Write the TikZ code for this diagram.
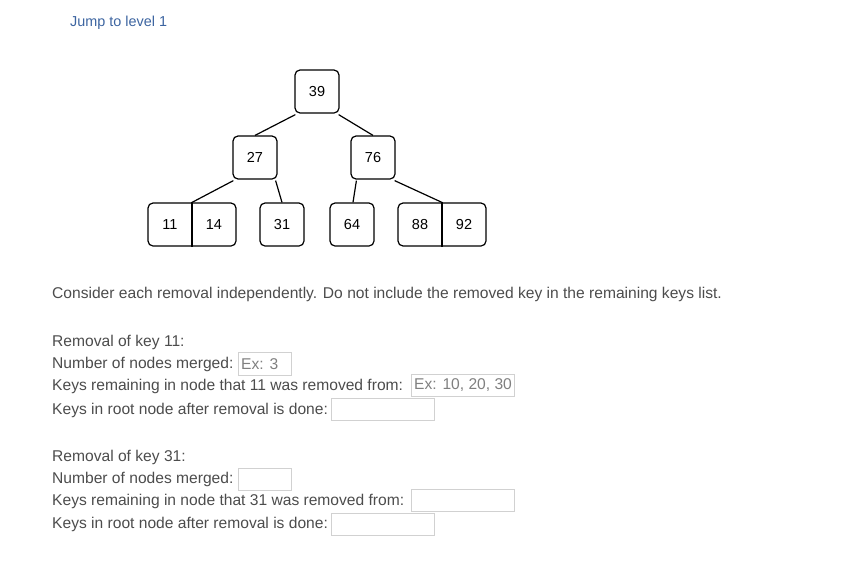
\documentclass[tikz,border=0pt]{standalone}
\usepackage{fontspec}
\setmainfont{Liberation Sans}
\begin{document}
\begin{tikzpicture}[x=1pt,y=-1pt,
  key/.style={draw,line width=1.2pt,rounded corners=5pt,minimum width=44pt,minimum height=43pt,inner sep=0pt,font=\fontsize{14.5}{16}\selectfont},
  key2/.style={draw,line width=1.2pt,rounded corners=5pt,minimum width=88pt,minimum height=43pt,inner sep=0pt},
  num/.style={font=\fontsize{14.5}{16}\selectfont},
  edge/.style={line width=1.2pt},
  txt/.style={anchor=west,inner sep=0pt,text=black!70,font=\fontsize{15.6}{18}\selectfont},
  inbox/.style={draw=black!18,line width=0.8pt,anchor=north west,inner sep=0pt},
  hint/.style={anchor=west,inner sep=0pt,text=black!50,font=\fontsize{15.6}{18}\selectfont}]
\useasboundingbox (0,0) rectangle (860,576);
\node[anchor=west,inner sep=0pt,text={rgb,255:red,60;green,100;blue,160},font=\fontsize{14.4}{16}\selectfont] (jump) at (70,23) {Jump to level 1};
% tree
\node[key] (r) at (317,91.5) {39};
\node[key] (a) at (255,157.5) {27};
\node[key] (b) at (373,157.5) {76};
\node[key2] (c) at (192,224.5) {};
\draw[line width=1.2pt] (c.north) -- (c.south);
\node[num] (c1) at (170,225) {11};
\node[num] (c2) at (214,225) {14};
\node[key] (d) at (282,224.5) {31};
\node[key] (e) at (352,224.5) {64};
\node[key2] (f) at (442,224.5) {};
\draw[line width=1.2pt] (f.north) -- (f.south);
\node[num] (f1) at (420,225) {88};
\node[num] (f2) at (464,225) {92};
\draw[edge] ([xshift=1pt,yshift=-1pt]r.south west) -- (a.north);
\draw[edge] ([xshift=-1pt,yshift=-1pt]r.south east) -- (b.north);
\draw[edge] ([xshift=1pt,yshift=-1pt]a.south west) -- (c.north);
\draw[edge] ([xshift=-2pt,yshift=-1pt]a.south east) -- (d.north);
\draw[edge] ([xshift=6pt,yshift=-1pt]b.south west) -- ([xshift=1pt]e.north);
\draw[edge] ([xshift=-1pt,yshift=-1pt]b.south east) -- (f.north);
% text
\node[txt] (t0) at (52,294) {Consider each removal independently. Do not include the removed key in the remaining keys list.};
\node[txt] (t1) at (52,342) {Removal of key 11:};
\node[txt] (t2) at (52,364) {Number of nodes merged:};
\node[txt] (t3) at (52,386) {Keys remaining in node that 11 was removed from:};
\node[txt] (t4) at (52,410) {Keys in root node after removal is done:};
\node[inbox,minimum width=53pt,minimum height=23pt] (b1) at (238,352) {};
\node[hint] (h1) at (241,364) {Ex: 3};
\node[inbox,minimum width=103pt,minimum height=22pt] (b2) at (411,374) {};
\node[hint] (h2) at (414,385.5) {Ex: 10, 20, 30};
\node[inbox,minimum width=103pt,minimum height=22pt] (b3) at (331,398) {};
\node[txt] (u1) at (52,457) {Removal of key 31:};
\node[txt] (u2) at (52,479) {Number of nodes merged:};
\node[txt] (u3) at (52,501) {Keys remaining in node that 31 was removed from:};
\node[txt] (u4) at (52,524) {Keys in root node after removal is done:};
\node[inbox,minimum width=53pt,minimum height=22pt] (v1) at (238,468) {};
\node[inbox,minimum width=103pt,minimum height=22pt] (v2) at (411,489) {};
\node[inbox,minimum width=103pt,minimum height=22pt] (v3) at (331,513) {};
\end{tikzpicture}
\end{document}
